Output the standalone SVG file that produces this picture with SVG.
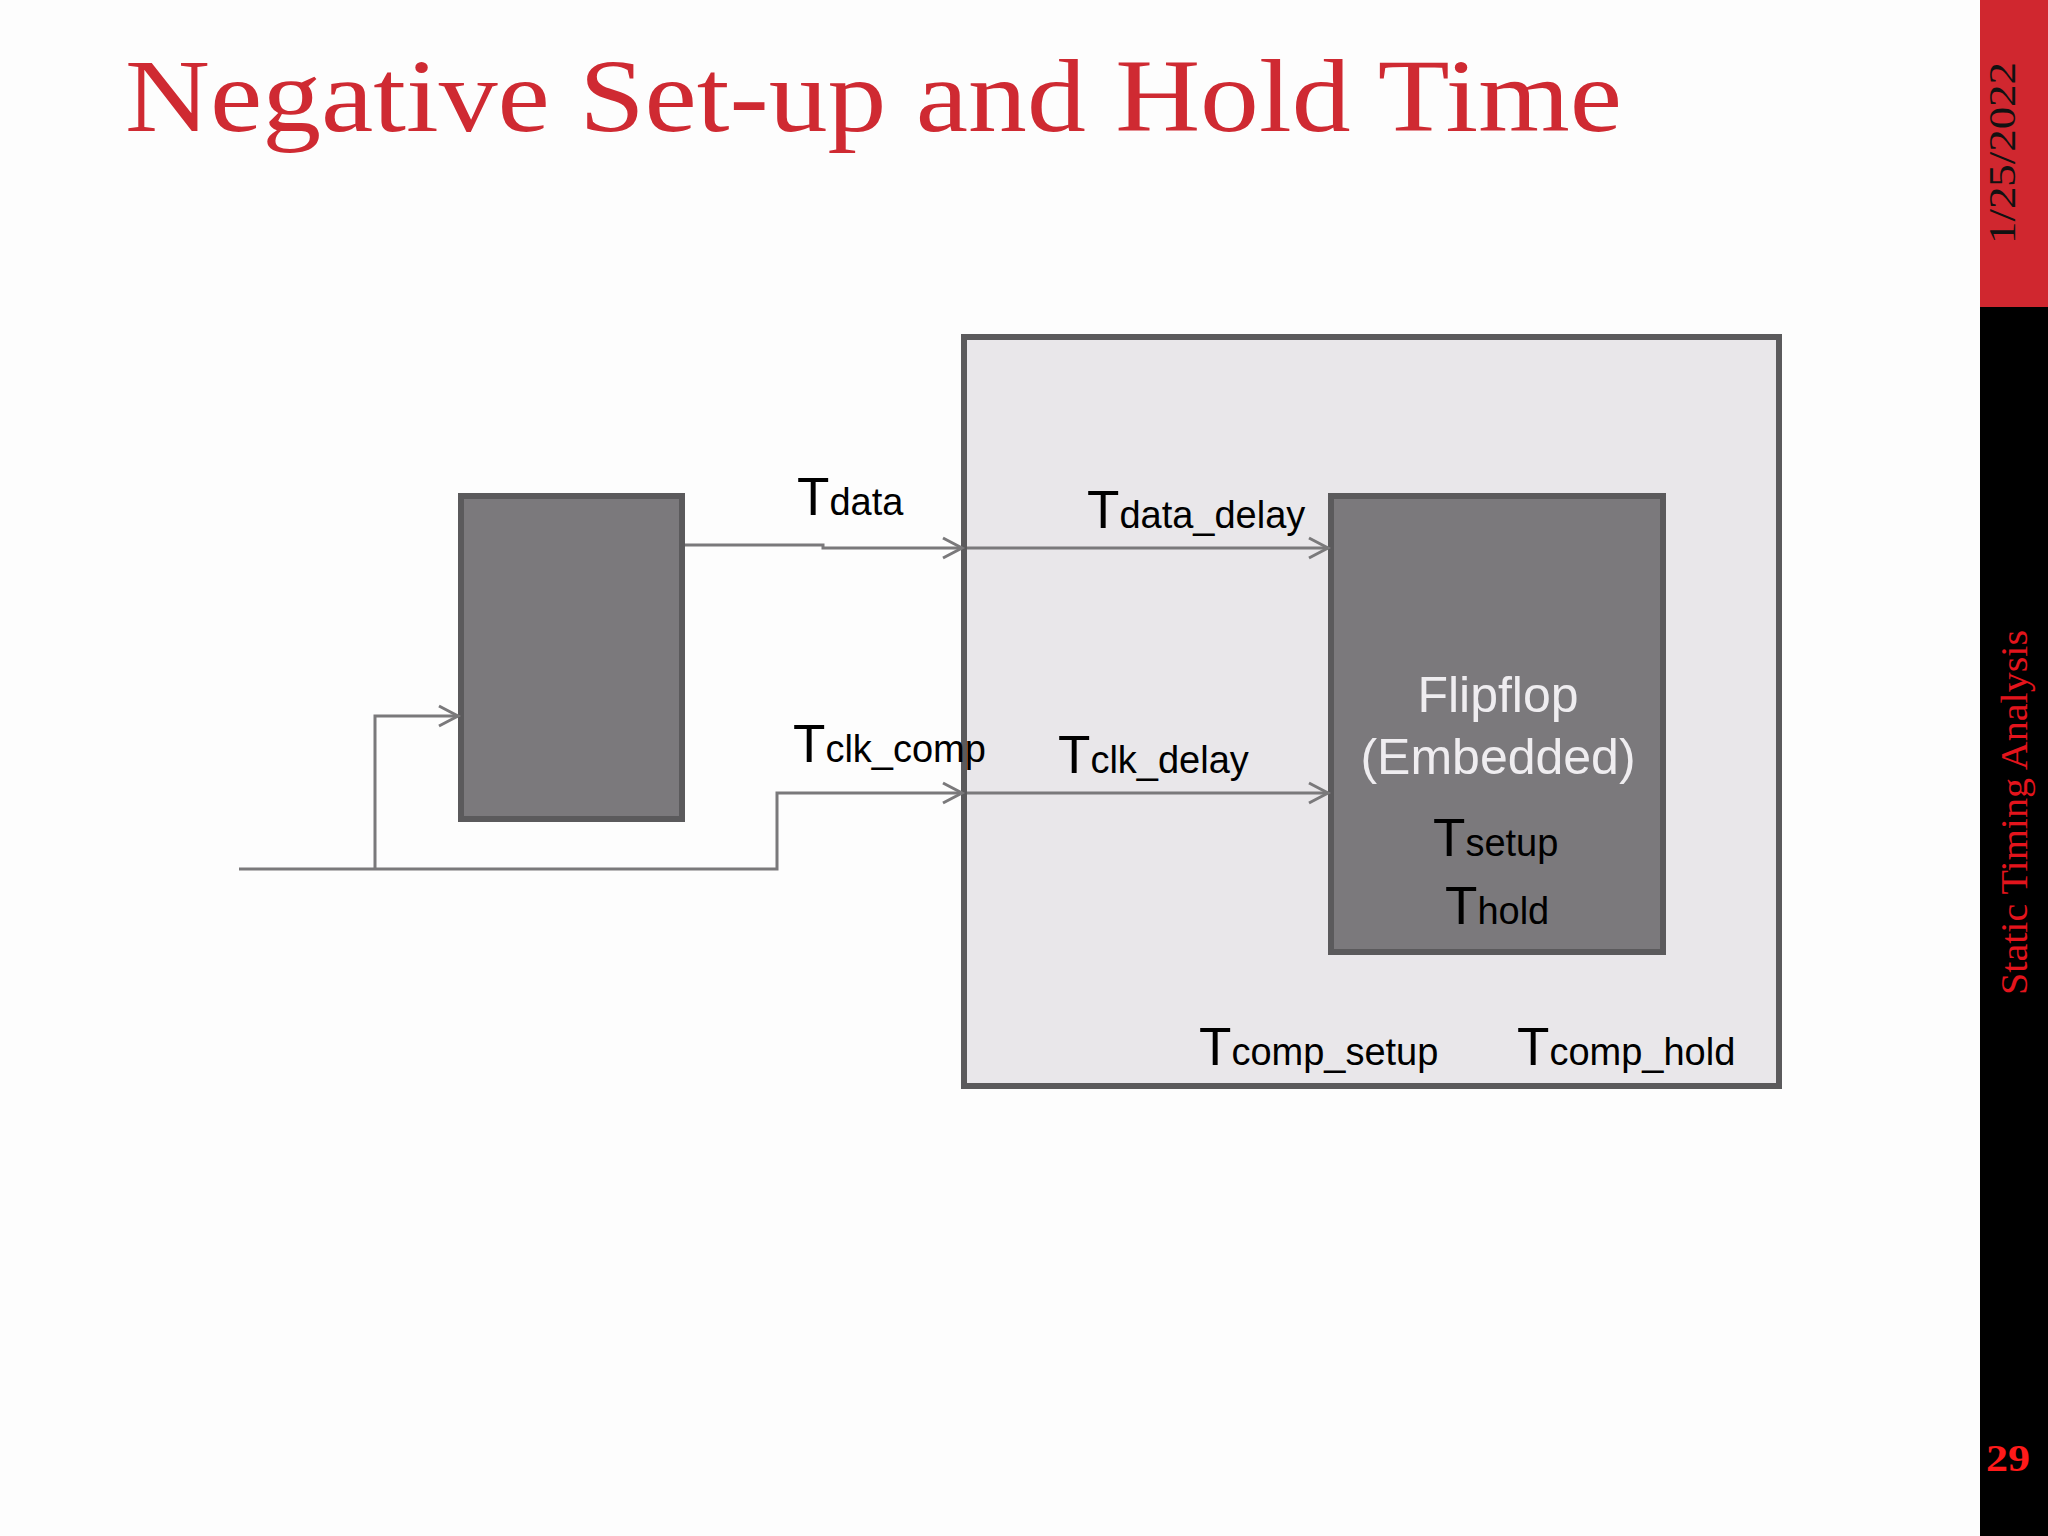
<svg xmlns="http://www.w3.org/2000/svg" width="2048" height="1536" viewBox="0 0 2048 1536">
  <defs>
    <style>
      .box-outer { fill: #e9e7ea; stroke: #5b5a5c; stroke-width: 6; }
      .box-dark { fill: #7b797c; stroke: #5b5a5c; stroke-width: 6; }
      .wire { fill: none; stroke: #7a797b; stroke-width: 3; }
      .lbl { font-family: "Liberation Sans", Arial, sans-serif; fill: #000000; }
      .big { font-size: 53px; }
      .sub { font-size: 38px; }
      .ff { font-family: "Liberation Sans", Arial, sans-serif; font-size: 50px; fill: #efedf0; text-anchor: middle; }
    </style>
    <marker id="arrow" markerUnits="userSpaceOnUse" viewBox="-24 -14 28 28" markerWidth="28" markerHeight="28" refX="0" refY="0" orient="auto">
      <path d="M-19,-10 L0,0 L-19,10" fill="none" stroke="#7a797b" stroke-width="3"/>
    </marker>
  </defs>

  <rect x="0" y="0" width="2048" height="1536" fill="#fdfdfd"/>

  <!-- sidebar -->
  <g id="sidebar">
    <rect x="1980" y="0" width="68" height="307" fill="#d0272f"/>
    <rect x="1980" y="307" width="68" height="1229" fill="#000000"/>
    <text transform="translate(2015,244) rotate(-90)" font-family="Liberation Serif, serif" font-size="37" fill="#111111" textLength="182" lengthAdjust="spacingAndGlyphs">1/25/2022</text>
    <text transform="translate(2027,995) rotate(-90)" font-family="Liberation Serif, serif" font-size="37" fill="#e3141c" textLength="365" lengthAdjust="spacingAndGlyphs">Static Timing Analysis</text>
    <text x="2008" y="1471" font-family="Liberation Serif, serif" font-size="37" font-weight="bold" fill="#ff1a1a" text-anchor="middle" textLength="44" lengthAdjust="spacingAndGlyphs">29</text>
  </g>

  <!-- title -->
  <text id="title" x="125" y="131" font-family="Liberation Serif, serif" font-size="103" fill="#cf2a32" textLength="1497" lengthAdjust="spacingAndGlyphs">Negative Set-up and Hold Time</text>

  <!-- nodes -->
  <g id="component">
    <rect class="box-outer" x="964" y="337" width="815" height="749"/>
  </g>
  <g id="source-block">
    <rect class="box-dark" x="461" y="496" width="221" height="323"/>
  </g>
  <g id="flipflop">
    <rect class="box-dark" x="1331" y="496" width="332" height="456"/>
    <text class="ff" x="1498" y="712">Flipflop</text>
    <text class="ff" x="1498" y="774">(Embedded)</text>
    <text class="lbl" x="1433" y="856"><tspan class="big">T</tspan><tspan class="sub">setup</tspan></text>
    <text class="lbl" x="1445" y="924"><tspan class="big">T</tspan><tspan class="sub">hold</tspan></text>
  </g>

  <!-- connectors -->
  <g id="connectors">
    <path class="wire" d="M685,545 H823 V548 H962" marker-end="url(#arrow)"/>
    <path class="wire" d="M967,548 H1328" marker-end="url(#arrow)"/>
    <path class="wire" d="M239,869 H777 V793 H962" marker-end="url(#arrow)"/>
    <path class="wire" d="M967,793 H1328" marker-end="url(#arrow)"/>
    <path class="wire" d="M375,869 V716 H458" marker-end="url(#arrow)"/>
  </g>

  <!-- labels -->
  <g id="labels">
    <text class="lbl" x="797" y="515"><tspan class="big">T</tspan><tspan class="sub">data</tspan></text>
    <text class="lbl" x="1087" y="528"><tspan class="big">T</tspan><tspan class="sub">data_delay</tspan></text>
    <text class="lbl" x="793" y="762"><tspan class="big">T</tspan><tspan class="sub">clk_comp</tspan></text>
    <text class="lbl" x="1058" y="773"><tspan class="big">T</tspan><tspan class="sub">clk_delay</tspan></text>
    <text class="lbl" x="1199" y="1065"><tspan class="big">T</tspan><tspan class="sub">comp_setup</tspan></text>
    <text class="lbl" x="1517" y="1065"><tspan class="big">T</tspan><tspan class="sub">comp_hold</tspan></text>
  </g>
</svg>
